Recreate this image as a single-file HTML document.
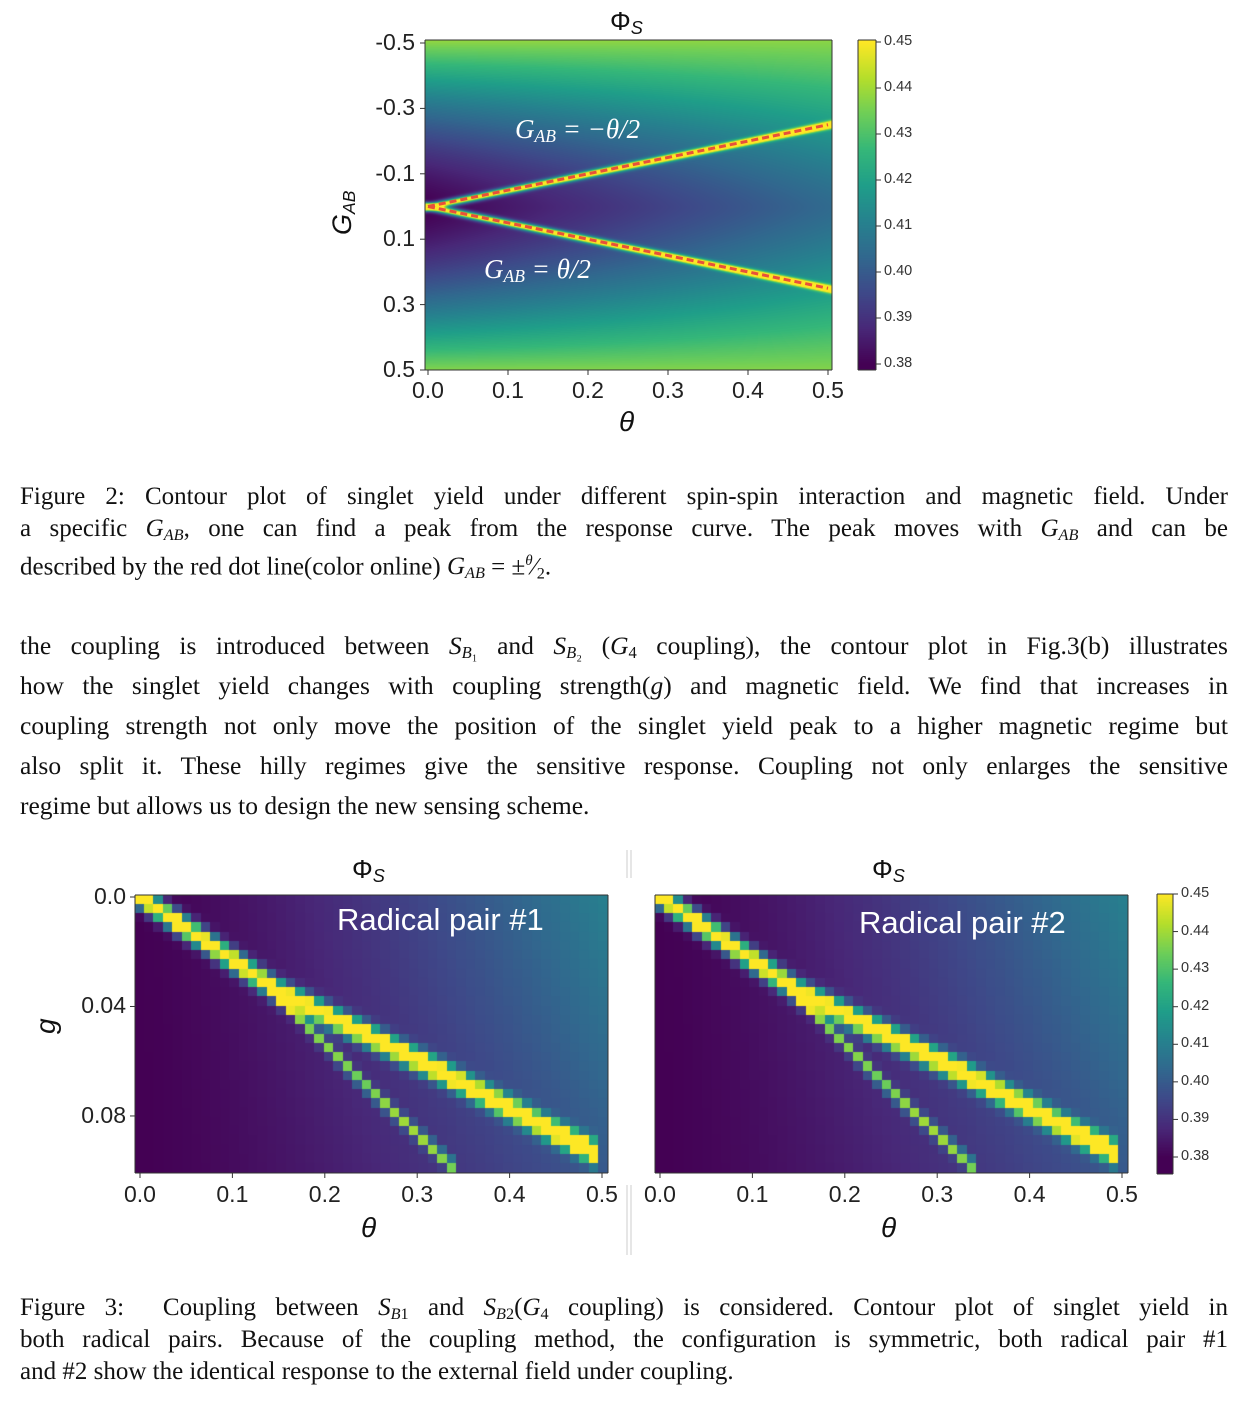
<!DOCTYPE html>
<html><head><meta charset="utf-8">
<style>
body{margin:0;width:1244px;height:1402px;background:#fff;position:relative;overflow:hidden;font-family:"Liberation Serif",serif;color:#111}
.ln{position:absolute;left:20px;width:1208px;font-size:25.5px;line-height:28px;height:28px;text-align:justify;text-align-last:justify;white-space:nowrap}
.ln.last{text-align-last:left}
.cap{position:absolute;left:20px;width:1208px;font-size:25px;line-height:28px;height:28px;text-align:justify;text-align-last:justify;white-space:nowrap}
.cap.last{text-align-last:left}
.ab{position:absolute}
sub{font-size:65%;vertical-align:-4px;line-height:0}
.tk{position:absolute;font-family:"Liberation Sans","DejaVu Sans",sans-serif;color:#222;font-size:23px}
.ctk{position:absolute;font-family:"Liberation Sans","DejaVu Sans",sans-serif;color:#333;font-size:14.5px}
</style></head><body>
<svg class="ab" style="left:0;top:0" width="1244" height="1402">
 <foreignObject x="425" y="40" width="407" height="330"><canvas id="c2" width="407" height="330" xmlns="http://www.w3.org/1999/xhtml"></canvas></foreignObject>
 <foreignObject x="135" y="895" width="473" height="278"><canvas id="c3a" width="473" height="278" xmlns="http://www.w3.org/1999/xhtml"></canvas></foreignObject>
 <foreignObject x="655" y="895" width="473" height="278"><canvas id="c3b" width="473" height="278" xmlns="http://www.w3.org/1999/xhtml"></canvas></foreignObject>
 <foreignObject x="858" y="40" width="18" height="330"><canvas id="cb2" width="18" height="330" xmlns="http://www.w3.org/1999/xhtml"></canvas></foreignObject>
 <foreignObject x="1157" y="894" width="16" height="280"><canvas id="cb3" width="16" height="280" xmlns="http://www.w3.org/1999/xhtml"></canvas></foreignObject>
 <g id="overlay"></g>
 <line x1="627" y1="850" x2="627" y2="878" stroke="#ccc" stroke-width="1"/>
 <line x1="631" y1="850" x2="631" y2="878" stroke="#ccc" stroke-width="1"/>
 <line x1="627" y1="1185" x2="627" y2="1255" stroke="#ccc" stroke-width="1"/>
 <line x1="631" y1="1185" x2="631" y2="1255" stroke="#ccc" stroke-width="1"/>
</svg>

<div class="ab" style="left:610px;top:6px;font-family:'Liberation Sans',sans-serif;font-size:26px">Φ<sub style="font-style:italic;font-size:70%">S</sub></div>
<div class="ab" style="left:515px;top:114px;color:#fff;font-style:italic;font-size:27px">G<sub>AB</sub> = −θ/2</div>
<div class="ab" style="left:484px;top:254px;color:#fff;font-style:italic;font-size:27px">G<sub>AB</sub> = θ/2</div>
<div class="ab" style="left:327px;top:235px;transform:rotate(-90deg);transform-origin:left top;font-family:'Liberation Sans',sans-serif;font-size:27px;font-style:italic">G<sub>AB</sub></div>
<div class="ab" style="left:619px;top:406px;font-style:italic;font-size:28px;font-family:'Liberation Sans',sans-serif">θ</div>

<div class="cap" style="top:483px">Figure 2: Contour plot of singlet yield under different spin-spin interaction and magnetic field. Under</div>
<div class="cap" style="top:515px">a specific <i>G<sub>AB</sub></i>, one can find a peak from the response curve. The peak moves with <i>G<sub>AB</sub></i> and can be</div>
<div class="cap last" style="top:547px">described by the red dot line(color online) <i>G<sub>AB</sub></i> = ±<sup style="font-size:60%"><i>θ</i></sup>⁄<sub>2</sub>.</div>

<div class="ln" style="top:632px">the coupling is introduced between <i>S</i><sub><i>B</i>₁</sub> and <i>S</i><sub><i>B</i>₂</sub> (<i>G</i><sub>4</sub> coupling), the contour plot in Fig.3(b) illustrates</div>
<div class="ln" style="top:672px">how the singlet yield changes with coupling strength(<i>g</i>) and magnetic field. We find that increases in</div>
<div class="ln" style="top:712px">coupling strength not only move the position of the singlet yield peak to a higher magnetic regime but</div>
<div class="ln" style="top:752px">also split it. These hilly regimes give the sensitive response. Coupling not only enlarges the sensitive</div>
<div class="ln last" style="top:792px">regime but allows us to design the new sensing scheme.</div>

<div class="ab" style="left:352px;top:854px;font-family:'Liberation Sans',sans-serif;font-size:26px">Φ<sub style="font-style:italic;font-size:70%">S</sub></div>
<div class="ab" style="left:872px;top:854px;font-family:'Liberation Sans',sans-serif;font-size:26px">Φ<sub style="font-style:italic;font-size:70%">S</sub></div>
<div class="ab" style="left:337px;top:902px;color:#fff;font-family:'Liberation Sans',sans-serif;font-size:31px">Radical pair #1</div>
<div class="ab" style="left:859px;top:905px;color:#fff;font-family:'Liberation Sans',sans-serif;font-size:31px">Radical pair #2</div>
<div class="ab" style="left:30px;top:1034px;transform:rotate(-90deg);transform-origin:left top;font-family:'Liberation Sans',sans-serif;font-size:28px;font-style:italic">g</div>
<div class="ab" style="left:361px;top:1212px;font-style:italic;font-size:28px;font-family:'Liberation Sans',sans-serif">θ</div>
<div class="ab" style="left:881px;top:1212px;font-style:italic;font-size:28px;font-family:'Liberation Sans',sans-serif">θ</div>

<div class="cap" style="top:1294px">Figure 3: &nbsp;Coupling between <i>S</i><sub><i>B</i>1</sub> and <i>S</i><sub><i>B</i>2</sub>(<i>G</i><sub>4</sub> coupling) is considered. Contour plot of singlet yield in</div>
<div class="cap" style="top:1326px">both radical pairs. Because of the coupling method, the configuration is symmetric, both radical pair #1</div>
<div class="cap last" style="top:1358px">and #2 show the identical response to the external field under coupling.</div>

<div id="ticks"></div>
<script>
// ---- data ----
const fig2XTicks=[0.0,0.1,0.2,0.3,0.4,0.5];
const fig2YTicks=[-0.5,-0.3,-0.1,0.1,0.3,0.5];
const fig2YLabels=["-0.5","-0.3","-0.1","0.1","0.3","0.5"];
const fig2LineSlopes=[-0.5,0.5];
const cbTicks=[0.45,0.44,0.43,0.42,0.41,0.40,0.39,0.38];
const fig3XTicks=[0.0,0.1,0.2,0.3,0.4,0.5];
const fig3YTicks=[0.0,0.04,0.08];
const fig3YLabels=["0.0","0.04","0.08"];
const mainTheta=[0,0.152,0.314,0.5];
const mainG=[0,0.035,0.062,0.095];
const branchTheta=[0.15,0.241,0.343];
const branchG=[0.036,0.068,0.1];

const vir=["#440154","#482878","#3e4989","#31688e","#26828e","#1f9e89","#35b779","#6ece58","#b5de2b","#fde725"].map(h=>[parseInt(h.substr(1,2),16),parseInt(h.substr(3,2),16),parseInt(h.substr(5,2),16)]);
function cmap(v){v=Math.max(0,Math.min(1,(v-0.38)/0.07));const p=v*9,i=Math.min(8,Math.floor(p)),f=p-i;const a=vir[i],b=vir[i+1];return [0,1,2].map(k=>Math.round(a[k]+(b[k]-a[k])*f));}
function interp(xs,ys,x){if(x<xs[0]||x>xs[xs.length-1])return null;for(let i=0;i<xs.length-1;i++){if(x<=xs[i+1]){const f=(x-xs[i])/(xs[i+1]-xs[i]);return ys[i]+f*(ys[i+1]-ys[i]);}}return ys[ys.length-1];}
const NS="http://www.w3.org/2000/svg";
const ov=document.getElementById('overlay');
const tk=document.getElementById('ticks');
function addLine(x1,y1,x2,y2,st,w,dash,name){const l=document.createElementNS(NS,'line');l.setAttribute('x1',x1);l.setAttribute('y1',y1);l.setAttribute('x2',x2);l.setAttribute('y2',y2);l.setAttribute('stroke',st);l.setAttribute('stroke-width',w);if(dash)l.setAttribute('stroke-dasharray',dash);


ov.appendChild(l);}
function addText(x,y,t,cls,align,name){const d=document.createElement('div');d.className=cls;d.textContent=t;d.style.top=y+'px';if(align==='r'){d.style.right=(1244-x)+'px';}else if(align==='c'){d.style.left=(x-40)+'px';d.style.width='80px';d.style.textAlign='center';}else d.style.left=x+'px';


tk.appendChild(d);}

// ---- Figure 2 ----
const f2x=t=>428+t*800, f2y=g=>43+(g+0.5)*327;
(function(){const c=document.getElementById('c2').getContext('2d');const W=407,H=330;const im=c.createImageData(W,H);
for(let j=0;j<H;j++)for(let i=0;i<W;i++){const th=(425+i-428)/800, G=(40+j-43)/327-0.5;const a=Math.abs(G)/0.5;
let v=0.38+0.057*Math.pow(a,1.5)+0.024*Math.max(0,th/0.5)*(1-a*a);
for(const s of fig2LineSlopes){const d=(G-s*th)*327;v+=0.075*Math.exp(-d*d/12);}
const col=cmap(v);const k=(j*W+i)*4;im.data[k]=col[0];im.data[k+1]=col[1];im.data[k+2]=col[2];im.data[k+3]=255;}
c.putImageData(im,0,0);})();
for(const s of fig2LineSlopes){addLine(f2x(0),f2y(0),f2x(0.5),f2y(s*0.5),'#e8503a',3,'7 4','fig2-dashed-line');}
addLine(425,40,832,40,'#333',1,null,'fig2-frame');addLine(425,370,832,370,'#333',1,null,'fig2-frame');addLine(425,40,425,370,'#333',1,null,'fig2-frame');addLine(832,40,832,370,'#333',1,null,'fig2-frame');
fig2XTicks.forEach(t=>{addLine(f2x(t),370,f2x(t),375,'#333',1,null,'fig2-x-tick');addText(f2x(t),377,t.toFixed(1),'tk','c','fig2-x-tick-label');});
fig2YTicks.forEach((g,i)=>{addLine(420,f2y(g),425,f2y(g),'#333',1,null,'fig2-y-tick');addText(415,f2y(g)-14,fig2YLabels[i],'tk','r','fig2-y-tick-label');});
const cb2y=v=>42+(0.45-v)*4600;
(function(){const c=document.getElementById('cb2').getContext('2d');for(let j=0;j<330;j++){const col=cmap(0.45-(40+j-42)/4600);c.fillStyle='rgb('+col+')';c.fillRect(0,j,18,1);}})();
addLine(858,40,876,40,'#333',1,null,'cb2-frame');addLine(858,370,876,370,'#333',1,null,'cb2-frame');addLine(858,40,858,370,'#333',1,null,'cb2-frame');addLine(876,40,876,370,'#333',1,null,'cb2-frame');
cbTicks.forEach(v=>{addLine(876,cb2y(v),881,cb2y(v),'#333',1,null,'cb2-tick');addText(884,cb2y(v)-9,v.toFixed(2),'ctk','l','cb2-tick-label');});

// ---- Figure 3 ----
function fig3(id,x0){const fx=t=>x0+5+t*924, fy=g=>897+g*2737;
const c=document.getElementById(id).getContext('2d');const NX=50,NY=30,cw=473/NX,ch=278/NY;
for(let j=0;j<NY;j++)for(let i=0;i<NX;i++){const px=x0+(i+0.5)*cw,py=895+(j+0.5)*ch;const th=(px-x0-5)/924,g=(py-897)/2737;
let v=0.38+0.03*Math.pow(Math.max(0,th/0.5),1.4)*(1-0.35*g/0.1);
const m=interp(mainTheta,mainG,Math.max(0,th));if(m!==null){const d=(py-fy(m));v+=0.085*Math.exp(-d*d/110);}
const b=interp(branchTheta,branchG,th);if(b!==null){const d=(py-fy(b));v+=0.05*Math.exp(-d*d/40);}
const col=cmap(v);c.fillStyle='rgb('+col+')';c.fillRect(Math.floor(i*cw),Math.floor(j*ch),Math.ceil(cw)+1,Math.ceil(ch)+1);}
addLine(x0,895,x0+473,895,'#333',1,null,'fig3-frame');addLine(x0,1173,x0+473,1173,'#333',1,null,'fig3-frame');addLine(x0,895,x0,1173,'#333',1,null,'fig3-frame');addLine(x0+473,895,x0+473,1173,'#333',1,null,'fig3-frame');
fig3XTicks.forEach(t=>{addLine(fx(t),1173,fx(t),1178,'#333',1,null,'fig3-x-tick');addText(fx(t),1181,t.toFixed(1),'tk','c','fig3-x-tick-label');});
if(x0<300)fig3YTicks.forEach((g,i)=>{addLine(x0-5,fy(g),x0,fy(g),'#333',1,null,'fig3-y-tick');addText(x0-9,fy(g)-14,fig3YLabels[i],'tk','r','fig3-y-tick-label');});
}
fig3('c3a',135);fig3('c3b',655);
const cb3y=v=>894+(0.45-v)*3757;
(function(){const c=document.getElementById('cb3').getContext('2d');for(let j=0;j<280;j++){const col=cmap(0.45-j/3757);c.fillStyle='rgb('+col+')';c.fillRect(0,j,16,1);}})();
addLine(1157,894,1173,894,'#333',1,null,'cb3-frame');addLine(1157,1174,1173,1174,'#333',1,null,'cb3-frame');addLine(1157,894,1157,1174,'#333',1,null,'cb3-frame');addLine(1173,894,1173,1174,'#333',1,null,'cb3-frame');
cbTicks.forEach(v=>{addLine(1173,cb3y(v),1178,cb3y(v),'#333',1,null,'cb3-tick');addText(1181,cb3y(v)-9,v.toFixed(2),'ctk','l','cb3-tick-label');});
</script>
</body></html>
